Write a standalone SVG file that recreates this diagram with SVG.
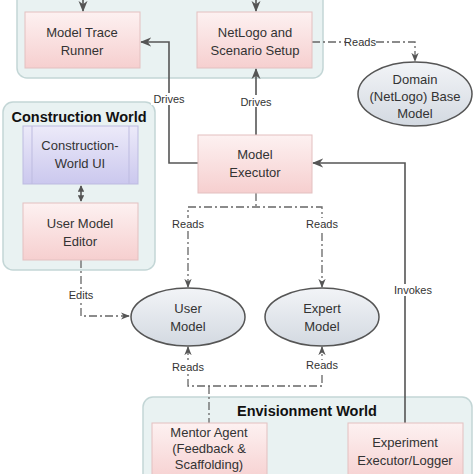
<svg xmlns="http://www.w3.org/2000/svg" width="474" height="474" viewBox="0 0 474 474">
<style>
.cont{fill:#e9f2f2;stroke:#c3d6d6;stroke-width:1.5}
.box{fill:url(#pink);stroke:#e3c0c0;stroke-width:1}
.ell{fill:url(#gray);stroke:#555;stroke-width:1.5}
.t{font-family:"Liberation Sans",Arial,sans-serif;font-size:13px;fill:#333;text-anchor:middle}
.lb{font-family:"Liberation Sans",Arial,sans-serif;font-size:11px;fill:#333;text-anchor:middle}
.ti{font-family:"Liberation Sans",Arial,sans-serif;font-size:14.5px;font-weight:bold;fill:#111;text-anchor:middle}
.ln{fill:none;stroke:#555;stroke-width:1.6}
.dd{fill:none;stroke:#666;stroke-width:1.3;stroke-dasharray:8 3 2 3}
</style>
<defs>
<linearGradient id="pink" x1="0" y1="0" x2="0" y2="1"><stop offset="0" stop-color="#fdf1f1"/><stop offset="1" stop-color="#f6cfcf"/></linearGradient>
<linearGradient id="lav" x1="0" y1="0" x2="0" y2="1"><stop offset="0" stop-color="#eceaf9"/><stop offset="1" stop-color="#cbc8ee"/></linearGradient>
<linearGradient id="gray" x1="0" y1="0" x2="0" y2="1"><stop offset="0" stop-color="#f2f4f7"/><stop offset="1" stop-color="#d3d9e1"/></linearGradient>
<marker id="ah" viewBox="0 0 10 10" refX="9" refY="5" markerWidth="7" markerHeight="7" orient="auto-start-reverse"><path d="M0,1 L10,5 L0,9 L3,5 Z" fill="#555"/></marker>
<marker id="sm" viewBox="0 0 10 10" refX="9" refY="5" markerWidth="4" markerHeight="4" orient="auto-start-reverse"><path d="M0,0 L10,5 L0,10 Z" fill="#555"/></marker>
</defs>
<g id="top-world"><rect class="cont" x="17" y="-20" width="306" height="98" rx="10"/></g>
<g id="construction-world"><rect class="cont" x="3" y="102" width="152" height="168" rx="10"/><text class="ti" x="79" y="122">Construction World</text></g>
<g id="envisionment-world"><rect class="cont" x="143" y="397" width="329" height="100" rx="10"/><text class="ti" x="307" y="416">Envisionment World</text></g>
<g id="connectors">
<path class="ln" d="M83,0 V11" marker-end="url(#ah)"/>
<path class="ln" d="M256,0 V11" marker-end="url(#ah)"/>
<path class="ln" d="M256,135 V69" marker-end="url(#ah)"/>
<path class="ln" d="M198,163 H169 V42 H141" marker-end="url(#ah)"/>
<path class="ln" d="M405,423 V163 H313" marker-end="url(#ah)"/>
<path class="ln" d="M81,186 V201" marker-start="url(#sm)" marker-end="url(#sm)"/>
<path class="dd" d="M312,42 H415 V61" marker-end="url(#ah)"/>
<path class="dd" d="M256,193 V207"/>
<path class="dd" d="M188,287 V207 H322 V287" marker-start="url(#ah)" marker-end="url(#ah)"/>
<path class="dd" d="M81,260 V316 H129" marker-end="url(#ah)"/>
<path class="dd" d="M188,347 V386 H322 V347" marker-start="url(#ah)" marker-end="url(#ah)"/>
<path class="dd" d="M209,386 V423"/>
<rect x="345" y="36" width="30" height="12" fill="#fff"/>
<text class="lb" x="360" y="46">Reads</text>
<rect x="151" y="93" width="36" height="12" fill="#fff"/>
<text class="lb" x="169" y="103">Drives</text>
<rect x="238" y="95" width="36" height="12" fill="#fff"/>
<text class="lb" x="256" y="106">Drives</text>
<rect x="172" y="218" width="32" height="12" fill="#fff"/>
<text class="lb" x="188" y="228">Reads</text>
<rect x="306" y="218" width="32" height="12" fill="#fff"/>
<text class="lb" x="322" y="228">Reads</text>
<rect x="67" y="289" width="28" height="12" fill="#fff"/>
<text class="lb" x="81" y="299">Edits</text>
<rect x="387" y="284" width="38" height="12" fill="#fff"/>
<text class="lb" x="413" y="294">Invokes</text>
<rect x="172" y="362" width="32" height="12" fill="#fff"/>
<text class="lb" x="188" y="371">Reads</text>
<rect x="306" y="360" width="32" height="12" fill="#fff"/>
<text class="lb" x="322" y="369">Reads</text>
</g>
<g id="model-trace-runner"><rect class="box" x="25" y="12" width="115" height="56"/><text class="t" x="82" y="37">Model Trace</text><text class="t" x="82" y="55">Runner</text></g>
<g id="netlogo-setup"><rect class="box" x="197" y="12" width="115" height="56"/><text class="t" x="255" y="37">NetLogo and</text><text class="t" x="255" y="55">Scenario Setup</text></g>
<g id="domain-model"><ellipse class="ell" cx="415" cy="94" rx="57" ry="32"/><text class="t" x="415" y="84">Domain</text><text class="t" x="415" y="101">(NetLogo) Base</text><text class="t" x="415" y="118">Model</text></g>
<g id="construction-ui"><rect x="23" y="126" width="115" height="58" fill="url(#lav)" stroke="#bdbbe0"/><line x1="32" y1="126" x2="32" y2="184" stroke="#bdbbe0"/><line x1="129" y1="126" x2="129" y2="184" stroke="#bdbbe0"/><text class="t" x="80" y="150">Construction-</text><text class="t" x="80" y="168">World UI</text></g>
<g id="user-model-editor"><rect class="box" x="23" y="203" width="115" height="57"/><text class="t" x="80" y="228">User Model</text><text class="t" x="80" y="246">Editor</text></g>
<g id="model-executor"><rect class="box" x="198" y="135" width="114" height="58"/><text class="t" x="255" y="159">Model</text><text class="t" x="255" y="177">Executor</text></g>
<g id="user-model"><ellipse class="ell" cx="188" cy="317" rx="57" ry="29"/><text class="t" x="188" y="313">User</text><text class="t" x="188" y="331">Model</text></g>
<g id="expert-model"><ellipse class="ell" cx="322" cy="317" rx="57" ry="29"/><text class="t" x="322" y="313">Expert</text><text class="t" x="322" y="331">Model</text></g>
<g id="mentor-agent"><rect class="box" x="152" y="423" width="115" height="60"/><text class="t" x="209" y="437">Mentor Agent</text><text class="t" x="209" y="453">(Feedback &amp;</text><text class="t" x="209" y="469">Scaffolding)</text></g>
<g id="experiment-executor"><rect class="box" x="348" y="423" width="115" height="60"/><text class="t" x="405" y="447">Experiment</text><text class="t" x="405" y="465">Executor/Logger</text></g>
</svg>
